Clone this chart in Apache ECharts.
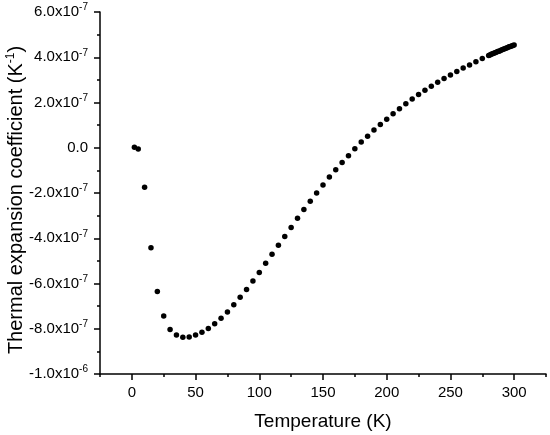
<!DOCTYPE html>
<html>
<head>
<meta charset="utf-8">
<script src="https://cdn.jsdelivr.net/npm/echarts@6/dist/echarts.min.js"></script>
<style>
  html, body { margin: 0; padding: 0; background: #fff; }
  #chart { width: 550px; height: 435px; }
</style>
</head>
<body>
<div id="chart"></div>
<script>
// temperature (K)
var temps = [2, 5, 10, 15, 20, 25, 30, 35, 40, 45, 50, 55, 60, 65, 70, 75, 80, 85, 90, 95,
    100, 105, 110, 115, 120, 125, 130, 135, 140, 145, 150, 155, 160, 165, 170, 175, 180, 185, 190, 195,
    200, 205, 210, 215, 220, 225, 230, 235, 240, 245, 250, 255, 260, 265, 270, 275,
    280, 281, 282, 283, 284, 285, 286, 287, 288, 289, 290, 291, 292, 293, 294, 295, 296, 297, 298, 299, 300];
// thermal expansion coefficient, in units of 1e-7 K^-1
var alphaE7 = [0.02, -0.06, -1.75, -4.42, -6.35, -7.44, -8.03, -8.28, -8.38, -8.37, -8.28, -8.16, -7.99, -7.78, -7.54, -7.26, -6.94, -6.61, -6.26, -5.89,
    -5.51, -5.11, -4.71, -4.31, -3.92, -3.52, -3.12, -2.73, -2.37, -2.00, -1.65, -1.29, -0.97, -0.65, -0.35, -0.04, 0.25, 0.51, 0.79, 1.03,
    1.26, 1.50, 1.72, 1.94, 2.15, 2.35, 2.54, 2.72, 2.90, 3.06, 3.22, 3.37, 3.52, 3.66, 3.80, 3.95,
    4.08, 4.10, 4.13, 4.15, 4.18, 4.20, 4.22, 4.25, 4.27, 4.29, 4.32, 4.34, 4.36, 4.39, 4.41, 4.43, 4.46, 4.48, 4.50, 4.52, 4.54];
var xMajor = [0, 50, 100, 150, 200, 250, 300];
var xMinor = [-25, 25, 75, 125, 175, 225, 275, 325];

var font = 'Liberation Sans, Arial, sans-serif';
var points = temps.map(function (t, i) { return [t, alphaE7[i]]; });

function yLabel(v) {
    if (Math.abs(v) < 1e-9) return '0.0';
    var s = (v * 1e-7).toExponential(1).split('e');
    return s[0] + 'x10{sup|' + parseInt(s[1], 10) + '}';
}

var sup = { fontSize: 10, fontFamily: font, color: '#000', padding: [0, 0, 9, 0] };

var chart = echarts.init(document.getElementById('chart'));
chart.setOption({
    animation: false,
    grid: { left: 100, right: 4, top: 12, bottom: 61, outerBoundsMode: 'none', containLabel: false },
    xAxis: [{
        type: 'value',
        min: -25,
        max: 325,
        name: 'Temperature (K)',
        nameLocation: 'middle',
        nameGap: 38,
        nameMoveOverlap: false,
        nameTextStyle: { fontSize: 19, fontFamily: font, color: '#000' },
        axisLine: { show: true, onZero: false, lineStyle: { color: '#000', width: 1.5 } },
        axisTick: { show: true, length: 6, customValues: xMajor, lineStyle: { color: '#000', width: 1.5 } },
        axisLabel: { customValues: xMajor, margin: 11, fontSize: 15, fontFamily: font, color: '#000' },
        splitLine: { show: false }
    }, {
        type: 'value',
        min: -25,
        max: 325,
        position: 'bottom',
        axisLine: { show: false, onZero: false },
        axisTick: { show: true, length: 3, customValues: xMinor, lineStyle: { color: '#000', width: 1.5 } },
        axisLabel: { show: false },
        splitLine: { show: false }
    }],
    yAxis: {
        type: 'value',
        min: -10,
        max: 6,
        interval: 2,
        name: 'Thermal expansion coefficient (K{sup|-1})',
        nameLocation: 'middle',
        nameGap: 73,
        nameMoveOverlap: false,
        nameTextStyle: {
            fontSize: 20, fontFamily: font, color: '#000',
            padding: [0, 14, 0, 0],
            rich: { sup: { fontSize: 12, fontFamily: font, color: '#000', padding: [0, 0, 10, 0] } }
        },
        axisLine: { show: true, onZero: false, lineStyle: { color: '#000', width: 1.5 } },
        axisTick: { show: true, length: 6, lineStyle: { color: '#000', width: 1.5 } },
        minorTick: { show: true, splitNumber: 2, length: 3, lineStyle: { color: '#000', width: 1.5 } },
        axisLabel: {
            margin: 12, fontSize: 15, fontFamily: font, color: '#000',
            formatter: yLabel,
            rich: { sup: sup }
        },
        splitLine: { show: false }
    },
    series: [{
        type: 'scatter',
        xAxisIndex: 0,
        symbol: 'circle',
        symbolSize: 5.5,
        itemStyle: { color: '#000', opacity: 1 },
        data: points
    }]
});
</script>
</body>
</html>
